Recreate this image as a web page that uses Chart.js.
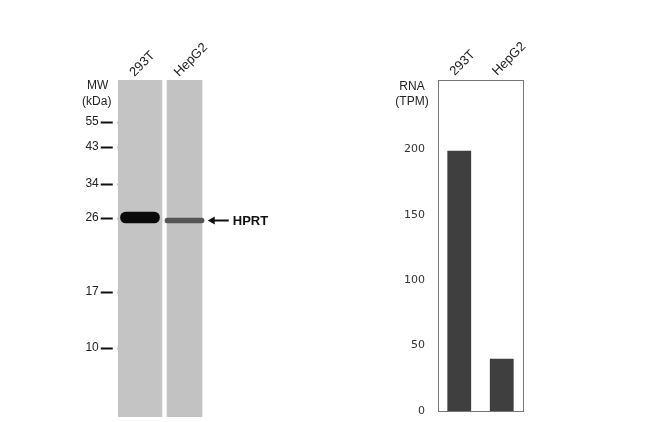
<!DOCTYPE html>
<html>
<head>
<meta charset="utf-8">
<script src="https://cdn.jsdelivr.net/npm/chart.js@4"></script>
<style>
  body { margin: 0; background: #fff; overflow: hidden; }
  #wrap { position: relative; width: 650px; height: 422px; }
  #blot_chart { position: absolute; left: 0; top: 0; }
  #rna_chart { position: absolute; left: 330px; top: 0; }
</style>
</head>
<body>
<div id="wrap">
  <canvas id="blot_chart" width="300" height="422"></canvas>
  <canvas id="rna_chart" width="320" height="422"></canvas>
</div>
<script>
var lanes = ["293T", "HepG2"];
// blot lane length and marker positions (migration distance from top of lane)
var laneLength = 337;
var markerKDa = ["55", "43", "34", "26", "17", "10"];
var markerPos = [42, 67, 104, 138, 212, 268];
// HPRT band (top, bottom) per lane
var bandTop = [132, 138];
var bandBottom = [143, 143];
var bandColor = ["#0a0a0a", "#555555"];
// RNA expression
var rnaTPM = [199, 40];
var rnaTicks = [0, 50, 100, 150, 200];

var armFont = "'Liberation Sans', Arial, sans-serif";

var blotText = {
  id: 'blotText',
  afterDraw: function(chart) {
    var ctx = chart.ctx, a = chart.chartArea;
    var y = chart.scales.y;
    ctx.save();
    ctx.fillStyle = '#222';
    ctx.font = '12px ' + armFont;
    ctx.textAlign = 'center';
    ctx.textBaseline = 'middle';
    ctx.fillText('MW', a.left - 20, a.top + 6);
    ctx.fillText('(kDa)', a.left - 21, a.top + 22);
    // arrow + label at the HepG2 band
    var by = y.getPixelForValue((bandTop[1] + bandBottom[1]) / 2);
    var ax = a.right + 1;
    ctx.strokeStyle = '#111';
    ctx.lineWidth = 2;
    ctx.beginPath();
    ctx.moveTo(ax + 4, by);
    ctx.lineTo(ax + 21, by);
    ctx.stroke();
    ctx.fillStyle = '#111';
    ctx.beginPath();
    ctx.moveTo(ax, by);
    ctx.lineTo(ax + 7, by - 4);
    ctx.lineTo(ax + 7, by + 4);
    ctx.closePath();
    ctx.fill();
    ctx.font = 'bold 13px ' + armFont;
    ctx.textAlign = 'left';
    ctx.fillText('HPRT', ax + 25, by + 1);
    ctx.restore();
  }
};

new Chart(document.getElementById('blot_chart'), {
  type: 'bar',
  data: {
    labels: lanes,
    datasets: [
      {
        data: [[0, laneLength], null],
        backgroundColor: '#c4c4c4',
        barThickness: 44,
        grouped: false,
        order: 2
      },
      {
        data: [null, [0, laneLength]],
        backgroundColor: '#c2c2c2',
        barThickness: 35,
        grouped: false,
        order: 2
      },
      {
        data: lanes.map(function(l, i) { return [bandTop[i], bandBottom[i]]; }),
        backgroundColor: bandColor,
        barThickness: [39, 30],
        borderRadius: 6,
        borderSkipped: false,
        grouped: false,
        order: 1
      }
    ]
  },
  options: {
    responsive: false,
    animation: false,
    layout: { padding: { left: 0, right: 93.25, top: 0, bottom: 5 } },
    plugins: { legend: { display: false }, tooltip: { enabled: false } },
    scales: {
      x: {
        position: 'top',
        grid: { display: false, drawTicks: false },
        border: { display: false },
        ticks: {
          minRotation: 45, maxRotation: 45, padding: 0, labelOffset: 3,
          color: '#222', font: { family: armFont, size: 13 }
        },
        afterFit: function(s) { s.height = 80; s.paddingLeft = 0; s.paddingRight = 0; }
      },
      y: {
        reverse: true,
        min: 0,
        max: laneLength,
        border: { display: false },
        grid: {
          drawOnChartArea: false,
          tickLength: 17,
          tickWidth: 2,
          tickColor: '#111',
          tickBorderDash: [12, 5]
        },
        afterBuildTicks: function(s) {
          s.ticks = markerPos.map(function(v) { return { value: v }; });
        },
        ticks: {
          padding: 2,
          color: '#222',
          font: { family: armFont, size: 12 },
          callback: function(v) {
            var i = markerPos.indexOf(v);
            return i >= 0 ? markerKDa[i] : '';
          }
        },
        afterFit: function(s) { s.width = 117.75; s.paddingTop = 0; s.paddingBottom = 0; }
      }
    }
  },
  plugins: [blotText]
});

var rnaFrame = {
  id: 'rnaFrame',
  afterDraw: function(chart) {
    var ctx = chart.ctx, a = chart.chartArea;
    ctx.save();
    ctx.strokeStyle = '#777';
    ctx.lineWidth = 1;
    ctx.strokeRect(Math.round(a.left) + 0.5, Math.round(a.top) + 0.5,
      Math.round(a.right - a.left), Math.round(a.bottom - a.top));
    ctx.fillStyle = '#222';
    ctx.font = '12px ' + armFont;
    ctx.textAlign = 'center';
    ctx.textBaseline = 'middle';
    ctx.fillText('RNA', a.left - 26, a.top + 7);
    ctx.fillText('(TPM)', a.left - 26, a.top + 22);
    ctx.restore();
  }
};

new Chart(document.getElementById('rna_chart'), {
  type: 'bar',
  data: {
    labels: lanes,
    datasets: [{
      data: rnaTPM,
      backgroundColor: '#3f3f3f',
      barPercentage: 0.56,
      categoryPercentage: 1
    }]
  },
  options: {
    responsive: false,
    animation: false,
    layout: { padding: { left: 0, right: 127, top: 0, bottom: 11 } },
    plugins: { legend: { display: false }, tooltip: { enabled: false } },
    scales: {
      x: {
        position: 'top',
        grid: { display: false, drawTicks: false },
        border: { display: false },
        ticks: {
          minRotation: 45, maxRotation: 45, padding: 1, labelOffset: 4,
          color: '#222', font: { family: armFont, size: 13 }
        },
        afterFit: function(s) { s.height = 80; s.paddingLeft = 0; s.paddingRight = 0; }
      },
      y: {
        min: 0,
        max: 253,
        grid: { display: false, drawTicks: false },
        border: { display: false },
        afterBuildTicks: function(s) {
          s.ticks = rnaTicks.map(function(v) { return { value: v }; });
        },
        ticks: {
          padding: 13,
          color: '#333',
          font: { family: "'DejaVu Sans', Verdana, sans-serif", size: 11 }
        },
        afterFit: function(s) { s.width = 108; s.paddingTop = 0; s.paddingBottom = 0; }
      }
    }
  },
  plugins: [rnaFrame]
});
</script>
</body>
</html>
